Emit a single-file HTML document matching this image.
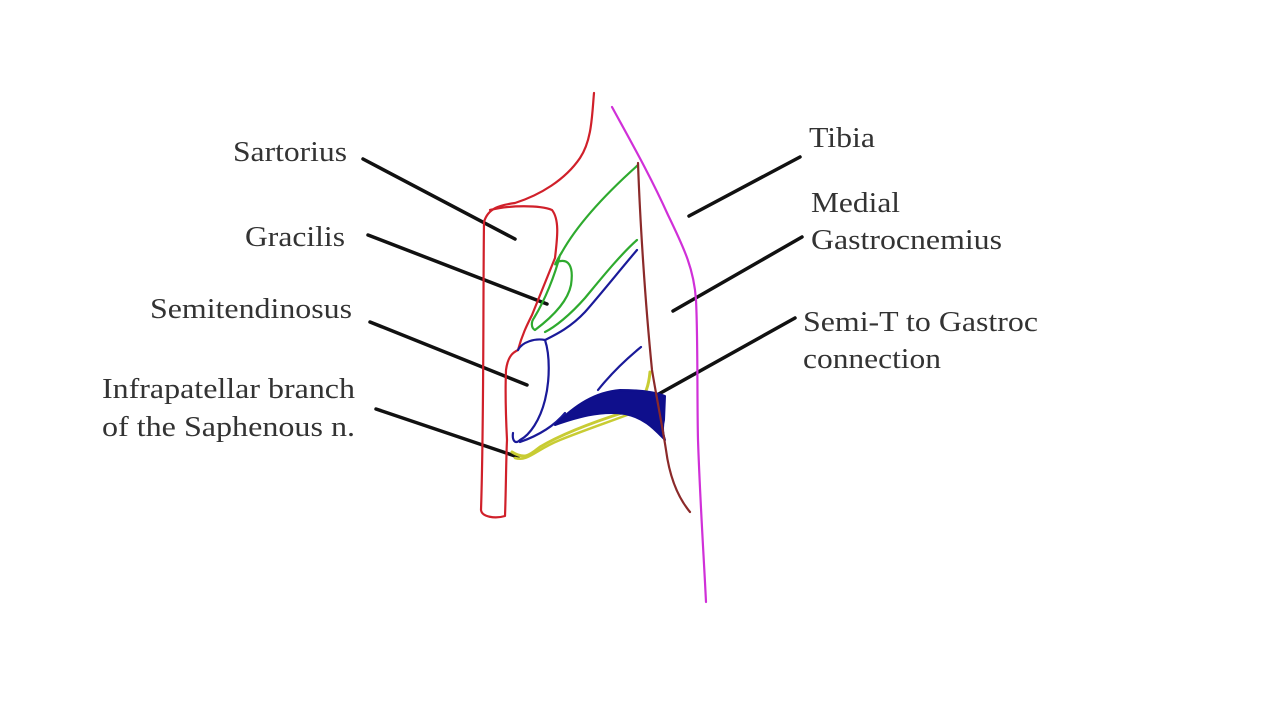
<!DOCTYPE html>
<html><head><meta charset="utf-8"><style>
html,body{margin:0;padding:0;background:#fff;}
svg{display:block}
text{font-family:"Liberation Serif",serif;font-size:28px;fill:#333;}
</style></head><body>
<svg width="1280" height="720" viewBox="0 0 1280 720">
<rect width="1280" height="720" fill="#fff"/>
<!-- labels -->
<text x="233" y="161" textLength="114" lengthAdjust="spacingAndGlyphs">Sartorius</text>
<text x="245" y="246" textLength="100" lengthAdjust="spacingAndGlyphs">Gracilis</text>
<text x="150" y="318" textLength="202" lengthAdjust="spacingAndGlyphs">Semitendinosus</text>
<text x="102" y="398" textLength="253" lengthAdjust="spacingAndGlyphs">Infrapatellar branch</text>
<text x="102" y="436" textLength="253" lengthAdjust="spacingAndGlyphs">of the Saphenous n.</text>
<text x="809" y="147" textLength="66" lengthAdjust="spacingAndGlyphs">Tibia</text>
<text x="811" y="212" textLength="89" lengthAdjust="spacingAndGlyphs">Medial</text>
<text x="811" y="249" textLength="191" lengthAdjust="spacingAndGlyphs">Gastrocnemius</text>
<text x="803" y="331" textLength="235" lengthAdjust="spacingAndGlyphs">Semi-T to Gastroc</text>
<text x="803" y="368" textLength="138" lengthAdjust="spacingAndGlyphs">connection</text>
<!-- leader lines -->
<g stroke="#111" stroke-width="3.5" stroke-linecap="round">
<line x1="363" y1="159" x2="515" y2="239"/>
<line x1="368" y1="235" x2="547" y2="304"/>
<line x1="370" y1="322" x2="527" y2="385"/>
<line x1="376" y1="409" x2="518" y2="457"/>
<line x1="800" y1="157" x2="689" y2="216"/>
<line x1="802" y1="237" x2="673" y2="311"/>
<line x1="795" y1="318" x2="648" y2="400"/>
</g>
<g fill="none" stroke-width="2.2" stroke-linejoin="round" stroke-linecap="round">
<!-- red -->
<path stroke="#d0202a" d="M594 93 C592 115 592 140 580 158 C565 180 540 195 515 203 C500 205 488 208 484 222 C483 300 484 420 481 510 C482 517 495 519 505 516 C506 490 506 460 507 440 C506 420 505 395 506 370 C508 355 514 352 518 350 C522 335 527 325 532 315 C540 295 548 275 555 258 C557 240 560 220 552 210 C540 205 510 205 490 210"/>
<!-- green -->
<path stroke="#2eaa2e" d="M638 165 C610 190 580 220 562 252 C556 262 553 268 557 262 C568 258 574 265 571 285 C568 300 555 315 535 330 C531 328 531 322 534 318 C545 300 555 275 560 255"/>
<path stroke="#2eaa2e" d="M637 240 C620 255 600 280 585 298 C570 315 555 327 545 332"/>
<!-- blue lines -->
<path stroke="#1a1a99" d="M637 250 C620 270 600 295 585 312 C570 328 555 335 545 340"/>
<path stroke="#1a1a99" d="M545 340 C535 338 522 342 518 350 M545 340 C550 355 550 380 545 400 C540 420 530 435 520 440 C515 445 512 440 513 433 M520 442 C540 435 555 425 565 413"/>
<path stroke="#1a1a99" d="M641 347 C625 360 610 375 598 390"/>
<!-- yellow -->
<path stroke="#c8cc33" stroke-width="3" d="M512 452 C525 460 530 455 540 447 C565 432 600 420 625 412 C640 405 648 395 650 372"/>
<path stroke="#c8cc33" stroke-width="2.5" d="M515 458 C528 462 535 450 560 440 C590 428 615 420 640 410"/>
<!-- dark blue band -->
<path fill="#0f0f8c" stroke="#0f0f8c" stroke-width="2" d="M555 425 C575 405 595 392 620 390 C640 390 655 392 665 396 L664 420 C662 428 663 434 665 440 C655 430 645 418 625 414 C600 410 575 418 555 425 Z"/>
<!-- brown -->
<path stroke="#8b2a2a" d="M638 163 C640 220 645 300 652 370 C657 400 663 430 666 450 C670 480 680 500 690 512"/>
<!-- magenta -->
<path stroke="#d030d8" d="M612 107 C630 140 650 175 668 215 C685 250 694 270 696 300 C698 340 697 400 698 440 C700 500 704 560 706 602"/>
</g>
</svg>
</body></html>
